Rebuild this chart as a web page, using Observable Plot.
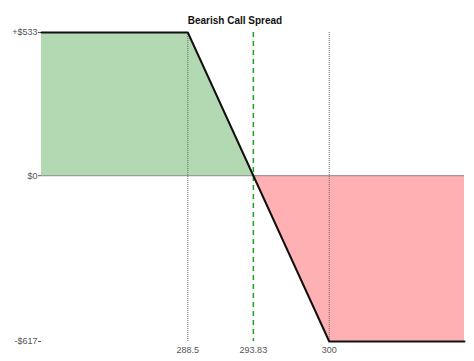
<!DOCTYPE html>
<html><head><meta charset="utf-8">
<script src="https://cdn.jsdelivr.net/npm/d3@7"></script>
<script src="https://cdn.jsdelivr.net/npm/@observablehq/plot@0.6"></script>
<style>
body{margin:0;background:#fff;font-family:Arial,"Liberation Sans",sans-serif;}
#title{height:26px;line-height:12px;padding-top:15px;box-sizing:border-box;text-align:center;font-weight:bold;font-size:10px;color:#111;width:470px;}
</style></head><body>
<div id="title">Bearish Call Spread</div>
<div id="chart"></div>
<script>
const prices = [276.6, 288.5, 293.83, 300, 311];
const payoff = [533, 533, 0, -617, -617];
const strikes = [288.5, 300];
const breakeven = [293.83];
const yTicks = [533, 0, -617];
const yLabels = ["+$533", "$0", "-$617"];
const xTicks = [288.5, 293.83, 300];

const pts = prices.map((p, i) => ({x: p, y: payoff[i]}));
const gain = pts.filter(d => d.y >= 0);
const loss = pts.filter(d => d.y <= 0);

const chart = Plot.plot({
  width: 474,
  height: 335,
  marginTop: 6,
  marginBottom: 20,
  marginLeft: 41,
  marginRight: 10,
  style: {fontFamily: "Arial, 'Liberation Sans', sans-serif", fontSize: "9px", color: "#555"},
  x: {domain: [276.6, 311], ticks: xTicks, tickFormat: d => String(d), tickSize: 0, tickPadding: 5, label: null},
  y: {domain: [-617, 533], ticks: yTicks, tickFormat: d => yLabels[yTicks.indexOf(d)], tickSize: 3, tickPadding: 1, label: null},
  marks: [
    Plot.areaY(gain, {x: "x", y1: 0, y2: "y", fill: "#b3d9b3"}),
    Plot.areaY(loss, {x: "x", y1: 0, y2: "y", fill: "#ffb0b3"}),
    Plot.ruleY([0], {stroke: "#888", strokeWidth: 1}),
    Plot.ruleX(strikes, {stroke: "#666", strokeWidth: 1, strokeDasharray: "1,1"}),
    Plot.ruleX(breakeven, {stroke: "#1aa31a", strokeWidth: 1.5, strokeDasharray: "5,4"}),
    Plot.line(pts, {x: "x", y: "y", stroke: "#111", strokeWidth: 2})
  ]
});
document.getElementById("chart").appendChild(chart);
</script>
</body></html>
